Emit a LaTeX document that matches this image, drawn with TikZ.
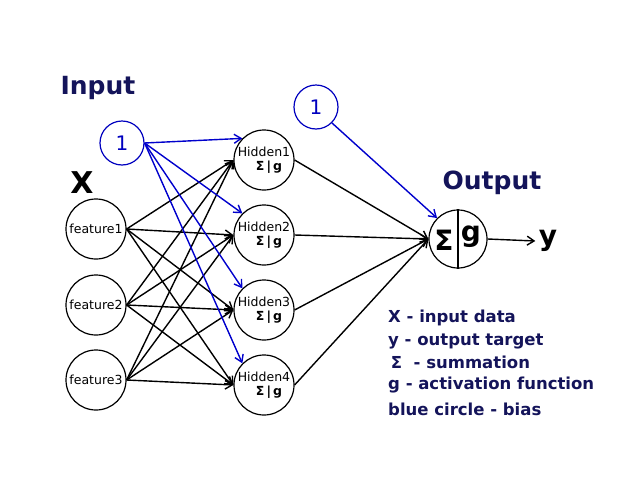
\documentclass[tikz,border=0pt]{standalone}
\usepackage{fontspec}
\setmainfont{DejaVu Sans}
\usetikzlibrary{arrows.meta}
\begin{document}
\begin{tikzpicture}[x=1pt,y=-1pt,
  neuron/.style={circle,draw,line width=1.2pt,minimum size=60pt,inner sep=0pt,font=\fontsize{12.5}{13}\selectfont},
  bias/.style={circle,draw=blue!75!black,line width=1.2pt,minimum size=44pt,text=blue!75!black,font=\fontsize{20}{22}\selectfont},
  con/.style={-{Straight Barb[length=7pt,width=9pt,line width=1.4pt]},line width=1.4pt},
  bcon/.style={con,draw=blue!80!black},
  head/.style={font=\fontsize{25}{27}\bfseries\selectfont,text={rgb,255:red,20;green,20;blue,90}},
  leg/.style={font=\fontsize{16.5}{18}\bfseries\selectfont,text={rgb,255:red,20;green,20;blue,90},anchor=west,inner sep=0pt}]
\useasboundingbox (0,0) rectangle (638,493);
\node[head] (in) at (98,88) {Input};
\node[font=\fontsize{30}{32}\bfseries\selectfont] (X) at (82,183) {X};
\node[head] (out) at (492,183) {Output};
\node[neuron] (f1) at (96,229) {feature1};
\node[neuron] (f2) at (96,305) {feature2};
\node[neuron] (f3) at (96,380) {feature3};
\foreach \i/\y in {1/160,2/235,3/310,4/385}
  \node[neuron,align=center] (h\i) at (264,\y) {Hidden\i\\[1pt]\hspace*{10pt}\textbf{Σ\,|\,g}};
\node[bias] (b1) at (122,143) {1};
\node[bias] (b2) at (316,107) {1};
\node[neuron,minimum size=58pt] (o) at (458,239) {};
\draw[line width=1.2pt] (o.north) -- (o.south);
\node[font=\fontsize{28}{30}\bfseries\selectfont] (sig) at (444,240) {Σ};
\node[font=\fontsize{28}{30}\bfseries\selectfont] (gg) at (471,237) {g};
\node[font=\fontsize{28}{30}\bfseries\selectfont] (y) at (548,241) {y};
\foreach \f in {1,2,3} \foreach \h in {1,2,3,4}
  \draw[con] (f\f.east) -- (h\h.west);
\foreach \h in {1,2,3,4} {
  \draw[bcon] (b1.east) -- (h\h.north west);
  \draw[con] (h\h.east) -- (o.west);
}
\draw[bcon] (b2.south east) -- (o.north west);
\draw[con] (o.east) -- (y.west);
\node[leg] (l1) at (388,318) {X - input data};
\node[leg] (l2) at (388,341) {y - output target};
\node[leg] (l3) at (388,362) {\,Σ\ \ - summation};
\node[leg] (l4) at (388,385) {g - activation function};
\node[leg] (l5) at (388,409) {blue circle - bias};
\end{tikzpicture}
\end{document}
